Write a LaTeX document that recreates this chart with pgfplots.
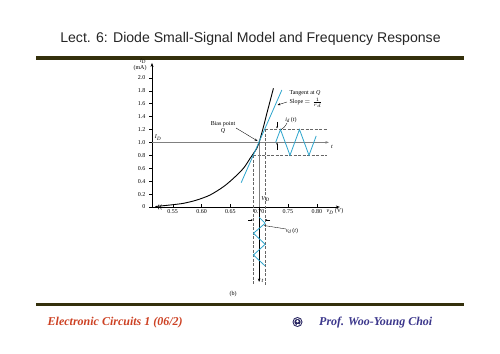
\documentclass[border=0pt]{standalone}
\usepackage{fontspec}
\setmainfont{Liberation Serif}
\newfontfamily\arialf{Liberation Sans}
\usepackage{pgfplots}
\pgfplotsset{compat=1.18}
\usetikzlibrary{arrows.meta}
\definecolor{barcol}{RGB}{52,48,12}
\definecolor{wave}{RGB}{45,165,205}
\definecolor{footred}{RGB}{205,65,35}
\definecolor{footblue}{RGB}{60,55,140}
\newcommand{\sm}{\fontsize{6}{7}\selectfont}
\begin{document}
\begin{tikzpicture}[x=1pt,y=1pt]
\path[use as bounding box, fill=white] (0,0) rectangle (500,353);
% title and bars
\node[font=\arialf\fontsize{14.1}{16}\selectfont, text=black!85] at (250.5,314.5) {Lect. 6: Diode Small-Signal Model and Frequency Response};
\fill[barcol] (36,293) rectangle (464,296.5);
\fill[barcol] (36,47) rectangle (464,50);
% footer
\node[anchor=west, font=\bfseries\itshape\fontsize{12}{14}\selectfont, text=footred, inner sep=0pt] at (47.5,30) {Electronic Circuits 1 (06/2)};
\node[anchor=west, font=\bfseries\itshape\fontsize{12}{14}\selectfont, text=footblue, inner sep=0pt] at (319,30) {Prof. Woo-Young Choi};
\fill[footblue!70!black] (297.5,31) circle (5);
\draw[white, line width=0.55pt] (297.5,31) circle (3.6);
\fill[white] (297.5,31.7) circle (1.4);
\fill[white] (296.5,28.5) rectangle (298.5,29.3);

\begin{axis}[at={(152pt,146pt)}, anchor=south west, scale only axis,
  width=187.8pt, height=144.06pt,
  xmin=0.514, xmax=0.84, ymin=0, ymax=2.23,
  axis lines=left, clip=false,
  axis line style={line width=0.5pt, -{Stealth[length=4pt,width=3pt]}},
  xtick={0.55,0.60,0.65,0.70,0.75,0.80},
  xticklabels={0.55,0.60,0.65,0.70,0.75,0.80},
  ytick={0,0.2,0.4,0.6,0.8,1.0,1.2,1.4,1.6,1.8,2.0},
  yticklabels={0,0.2,0.4,0.6,0.8,1.0,1.2,1.4,1.6,1.8,2.0},
  tick style={black, line width=0.4pt}, major tick length=3pt,
  xtick align=inside, ytick align=outside,
  tick label style={font=\sm},
  /pgf/number format/assume math mode=true,
  xticklabel style={yshift=1pt},
]
% I_D level line
\addplot[gray, line width=0.4pt, -{Stealth[length=3.5pt,width=2.5pt]}] coordinates {(0.514,1.0) (0.821,1.0)};
% dashed levels
\addplot[black!60, dash pattern=on 3pt off 1.5pt, line width=0.4pt] coordinates {(0.7104,1.2) (0.818,1.2)};
\addplot[black!60, dash pattern=on 3pt off 1.5pt, line width=0.4pt] coordinates {(0.6896,0.8) (0.818,0.8)};
\addplot[black!60, dash pattern=on 3pt off 1.5pt, line width=0.4pt] coordinates {(0.6896,0.8) (0.6896,-1.2)};
\addplot[black!60, dash pattern=on 3pt off 1.5pt, line width=0.4pt] coordinates {(0.7104,1.2) (0.7104,-1.2)};
% V_D line and time axis
\addplot[gray, line width=0.4pt] coordinates {(0.70,1.0) (0.70,0)};
\addplot[black, line width=0.45pt, -{Stealth[length=3.5pt,width=2.5pt]}] coordinates {(0.70,0) (0.70,-1.16)};
% diode curve
\addplot[black, line width=0.9pt, smooth] coordinates {
 (0.520,0.008) (0.5455,0.031) (0.5686,0.057) (0.5918,0.108) (0.6149,0.186)
 (0.6380,0.314) (0.6554,0.444) (0.6727,0.599) (0.6844,0.754) (0.6960,0.909)
 (0.700,1.0) (0.7075,1.243) (0.7134,1.450) (0.7248,1.837)};
% tangent
\addplot[wave, line width=0.8pt] coordinates {(0.6688,0.376) (0.7394,1.811)};
% i_d(t)
\addplot[wave, line width=0.8pt] coordinates {
 (0.7286,1.0) (0.7370,1.2) (0.7535,0.8) (0.7700,1.2) (0.7865,0.8) (0.7990,1.1)};
% v_d(t)
\addplot[wave, line width=0.8pt] coordinates {
 (0.700,-0.16) (0.7104,-0.252) (0.6901,-0.407) (0.7104,-0.577) (0.6901,-0.743) (0.7104,-0.913)};
\end{axis}

% break mark on x axis
\draw[line width=0.45pt] (159,143.5) .. controls (157.6,145.8) and (157.6,146.6) .. (159,148.5);
\draw[line width=0.45pt] (161.3,143.5) .. controls (159.9,145.8) and (159.9,146.6) .. (161.3,148.5);

% labels
\node[font=\sm] at (143,292) {\textit{i}\textsubscript{\textit{D}}};
\node[font=\sm] at (140,285) {(mA)};
\node[font=\sm] at (158,215.5) {\textit{I}\textsubscript{\textit{D}}};
\node[font=\sm] at (265.5,154) {\textit{V}\textsubscript{\textit{D}}};
\node[font=\sm] at (335,141.5) {\textit{v}\textsubscript{\textit{D}} (V)};
\node[font=\sm] at (332,206.5) {\textit{t}};
\node[font=\sm] at (262.5,72) {\textit{t}};
\node[font=\sm] at (292,122) {\textit{v}\textsubscript{\textit{d}}\,(\textit{t})};
\node[font=\sm] at (291,233) {\textit{i}\textsubscript{\textit{d}}\,(\textit{t})};
\node[font=\sm] at (223,229) {Bias point};
\node[font=\sm] at (223,221.5) {\textit{Q}};
\node[font=\sm] at (305,259.5) {Tangent at \textit{Q}};
\node[font=\sm] at (306,250) {Slope $=\frac{1}{r_d}$};
\node[font=\sm] at (233,59) {(b)};

% leaders
\draw[line width=0.35pt, -{Stealth[length=3pt,width=2pt]}] (236,225) -- (257.5,212);
\draw[line width=0.35pt, -{Stealth[length=3pt,width=2pt]}] (287,251) -- (277.5,248);
\draw[line width=0.35pt] (287,230) .. controls (285,226) and (283,224.5) .. (281,223.5);
\draw[line width=0.35pt] (286,124) -- (264,127.5);
% amplitude markers
\draw[line width=0.35pt, -{Stealth[length=2pt,width=1.6pt]}] (277,231) -- (277,224.5);
\draw[line width=0.35pt, -{Stealth[length=2pt,width=1.6pt]}] (277,203) -- (277,210.5);
\draw[line width=0.35pt, -{Stealth[length=2pt,width=1.6pt]}] (248,133) -- (252.8,133);
\draw[line width=0.35pt, -{Stealth[length=2pt,width=1.6pt]}] (270,133) -- (265.2,133);
\end{tikzpicture}
\end{document}
